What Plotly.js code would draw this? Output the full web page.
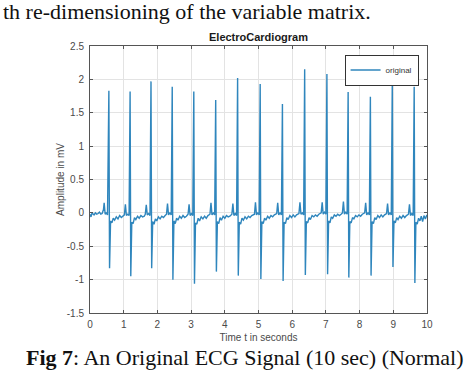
<!DOCTYPE html>
<html>
<head>
<meta charset="utf-8">
<script src="https://cdn.plot.ly/plotly-3.0.1.min.js"></script>
<style>
html,body{margin:0;padding:0;background:#fff;}
#chart{width:474px;height:372px;}
</style>
</head>
<body>
<div id="chart"></div>
<script>
// Time (s)
var timeSec = [
0,0.03,0.06,0.09,0.12,0.16,0.20,0.24,0.28,0.32,0.36,0.40,0.42,0.45,0.48,0.52,
0.56,0.58,0.61,0.65,0.69,0.73,0.78,0.83,0.88,0.93,0.98,1.02,1.05,1.08,1.12,1.16,
1.19,1.21,1.24,1.28,1.32,1.36,1.41,1.46,1.51,1.56,1.61,1.64,1.67,1.70,1.74,1.78,
1.81,1.83,1.86,1.90,1.94,1.98,2.03,2.08,2.13,2.18,2.23,2.27,2.30,2.33,2.37,2.41,
2.44,2.46,2.49,2.53,2.57,2.61,2.66,2.71,2.76,2.81,2.86,2.91,2.94,2.97,3.01,3.05,
3.08,3.10,3.13,3.17,3.21,3.25,3.30,3.35,3.40,3.45,3.50,3.56,3.59,3.62,3.66,3.70,
3.73,3.75,3.78,3.82,3.86,3.90,3.95,4.00,4.05,4.10,4.15,4.21,4.24,4.27,4.31,4.35,
4.38,4.40,4.43,4.47,4.51,4.55,4.60,4.65,4.70,4.75,4.80,4.88,4.91,4.94,4.98,5.02,
5.05,5.07,5.10,5.14,5.18,5.22,5.27,5.32,5.37,5.42,5.47,5.54,5.57,5.60,5.64,5.68,
5.71,5.73,5.76,5.80,5.84,5.88,5.93,5.98,6.03,6.08,6.13,6.20,6.23,6.26,6.30,6.34,
6.37,6.39,6.42,6.46,6.50,6.54,6.59,6.64,6.69,6.74,6.79,6.86,6.89,6.92,6.96,7.00,
7.03,7.05,7.08,7.12,7.16,7.20,7.25,7.30,7.35,7.40,7.45,7.49,7.52,7.55,7.59,7.63,
7.66,7.68,7.71,7.75,7.79,7.83,7.88,7.93,7.98,8.03,8.08,8.15,8.18,8.21,8.25,8.29,
8.32,8.34,8.37,8.41,8.45,8.49,8.54,8.59,8.64,8.69,8.74,8.80,8.83,8.86,8.90,8.94,
8.97,8.99,9.02,9.06,9.10,9.14,9.19,9.24,9.29,9.34,9.39,9.45,9.48,9.51,9.55,9.59,
9.62,9.64,9.67,9.71,9.75,9.79,9.83,9.87,9.91,9.95,10.0
];
// Amplitude (mV)
var amplitudeMv = [
-0.02,-0.06,0.00,-0.01,-0.03,0.00,-0.02,-0.01,0.01,-0.02,-0.01,0.05,0.15,-0.02,0.00,-0.03,
1.83,-0.83,-0.12,-0.15,-0.08,-0.11,-0.06,-0.09,-0.04,-0.07,-0.05,-0.03,0.13,-0.04,-0.02,-0.04,
1.82,-0.95,-0.14,-0.16,-0.07,-0.10,-0.05,-0.08,-0.04,-0.06,-0.05,-0.02,0.12,-0.03,-0.01,-0.04,
1.97,-0.83,-0.13,-0.17,-0.09,-0.12,-0.06,-0.09,-0.05,-0.07,-0.04,-0.02,0.14,-0.03,0.00,-0.03,
1.89,-1.00,-0.12,-0.16,-0.08,-0.11,-0.05,-0.08,-0.04,-0.07,-0.05,-0.02,0.13,-0.04,-0.01,-0.04,
1.82,-1.06,-0.15,-0.17,-0.08,-0.12,-0.06,-0.09,-0.05,-0.08,-0.04,-0.02,0.15,-0.03,0.00,-0.03,
1.69,-0.88,-0.13,-0.16,-0.07,-0.11,-0.05,-0.08,-0.04,-0.06,-0.05,-0.02,0.14,-0.04,-0.01,-0.04,
2.02,-0.94,-0.14,-0.17,-0.08,-0.11,-0.06,-0.09,-0.05,-0.07,-0.04,-0.02,0.16,-0.03,0.00,-0.03,
1.93,-0.99,-0.13,-0.16,-0.08,-0.11,-0.05,-0.08,-0.04,-0.06,-0.03,-0.01,0.15,-0.03,0.00,-0.03,
1.63,-1.02,-0.14,-0.16,-0.07,-0.10,-0.04,-0.07,-0.03,-0.06,-0.03,-0.01,0.16,-0.02,0.00,-0.03,
2.15,-0.93,-0.13,-0.15,-0.07,-0.10,-0.04,-0.06,-0.03,-0.05,-0.02,0.00,0.16,-0.02,0.01,-0.02,
2.08,-0.92,-0.12,-0.15,-0.06,-0.08,-0.03,-0.05,-0.02,-0.04,-0.02,0.00,0.17,-0.02,0.01,-0.02,
1.81,-0.97,-0.13,-0.15,-0.07,-0.09,-0.04,-0.06,-0.03,-0.05,-0.02,0.00,0.15,-0.03,0.00,-0.03,
1.74,-0.94,-0.13,-0.16,-0.07,-0.10,-0.04,-0.07,-0.03,-0.06,-0.03,-0.01,0.14,-0.03,0.00,-0.03,
1.97,-0.81,-0.12,-0.15,-0.07,-0.10,-0.05,-0.08,-0.04,-0.07,-0.04,-0.02,0.13,-0.04,-0.01,-0.04,
1.89,-1.05,-0.14,-0.17,-0.08,-0.12,-0.05,-0.13,-0.04,-0.09,-0.03
];
var xTickVals = [0,1,2,3,4,5,6,7,8,9,10];
var xTickText = ["0","1","2","3","4","5","6","7","8","9","10"];
var yTickVals = [-1.5,-1,-0.5,0,0.5,1,1.5,2,2.5];
var yTickText = ["-1.5","-1","-0.5","0","0.5","1","1.5","2","2.5"];

var axisFont = {family:"Liberation Sans, Arial, sans-serif", size:10, color:"#4a4a4a"};

var trace = {
  x: timeSec, y: amplitudeMv, type:"scatter", mode:"lines", name:"original",
  line:{color:"#2f86bd", width:1.4}
};

var layout = {
  width:474, height:372,
  margin:{l:90, r:47, t:46, b:59},
  paper_bgcolor:"#fff", plot_bgcolor:"#fff",
  showlegend:true,
  title:{text:"<b>ElectroCardiogram</b>", font:{family:"Liberation Sans, Arial, sans-serif", size:11, color:"#1a1a1a"},
         x:0.5, xref:"paper", xanchor:"center", y:1, yref:"paper", yanchor:"bottom", pad:{b:5}},
  xaxis:{range:[0,10], tickvals:xTickVals, ticktext:xTickText, showgrid:true, gridcolor:"#e3e3e3", gridwidth:1,
         zeroline:false, showline:true, linecolor:"#555", linewidth:1, mirror:"ticks", ticks:"inside", ticklen:3,
         tickcolor:"#555", tickfont:axisFont, ticklabelstandoff:2,
         title:{text:"Time t in seconds", font:axisFont, standoff:4}},
  yaxis:{range:[-1.5,2.5], tickvals:yTickVals, ticktext:yTickText, showgrid:true, gridcolor:"#e3e3e3", gridwidth:1,
         zeroline:false, showline:true, linecolor:"#555", linewidth:1, mirror:"ticks", ticks:"inside", ticklen:3,
         tickcolor:"#555", tickfont:axisFont, ticklabelstandoff:3,
         title:{text:"Amplitude in mV", font:axisFont, standoff:0}},
  legend:{x:0.975, y:0.968, xanchor:"right", yanchor:"top", bgcolor:"#fff", bordercolor:"#333", borderwidth:1,
          font:{family:"Liberation Sans, Arial, sans-serif", size:8, color:"#333"}, itemwidth:30, tracegroupgap:0},
  annotations:[
    {text:"th re-dimensioning of the variable matrix.", xref:"paper", yref:"paper", x:(1-90)/337, y:(313-12)/267,
     xanchor:"left", yanchor:"middle", showarrow:false,
     font:{family:"Liberation Serif, Times New Roman, serif", size:22, color:"#111"}},
    {text:"<b>Fig 7</b>: An Original ECG Signal (10 sec) (Normal)", xref:"paper", yref:"paper", x:-0.196, y:-0.168,
     xanchor:"left", yanchor:"middle", showarrow:false,
     font:{family:"Liberation Serif, Times New Roman, serif", size:22, color:"#111"}}
  ]
};

Plotly.newPlot("chart", [trace], layout, {displayModeBar:false, staticPlot:true});
</script>
</body>
</html>
